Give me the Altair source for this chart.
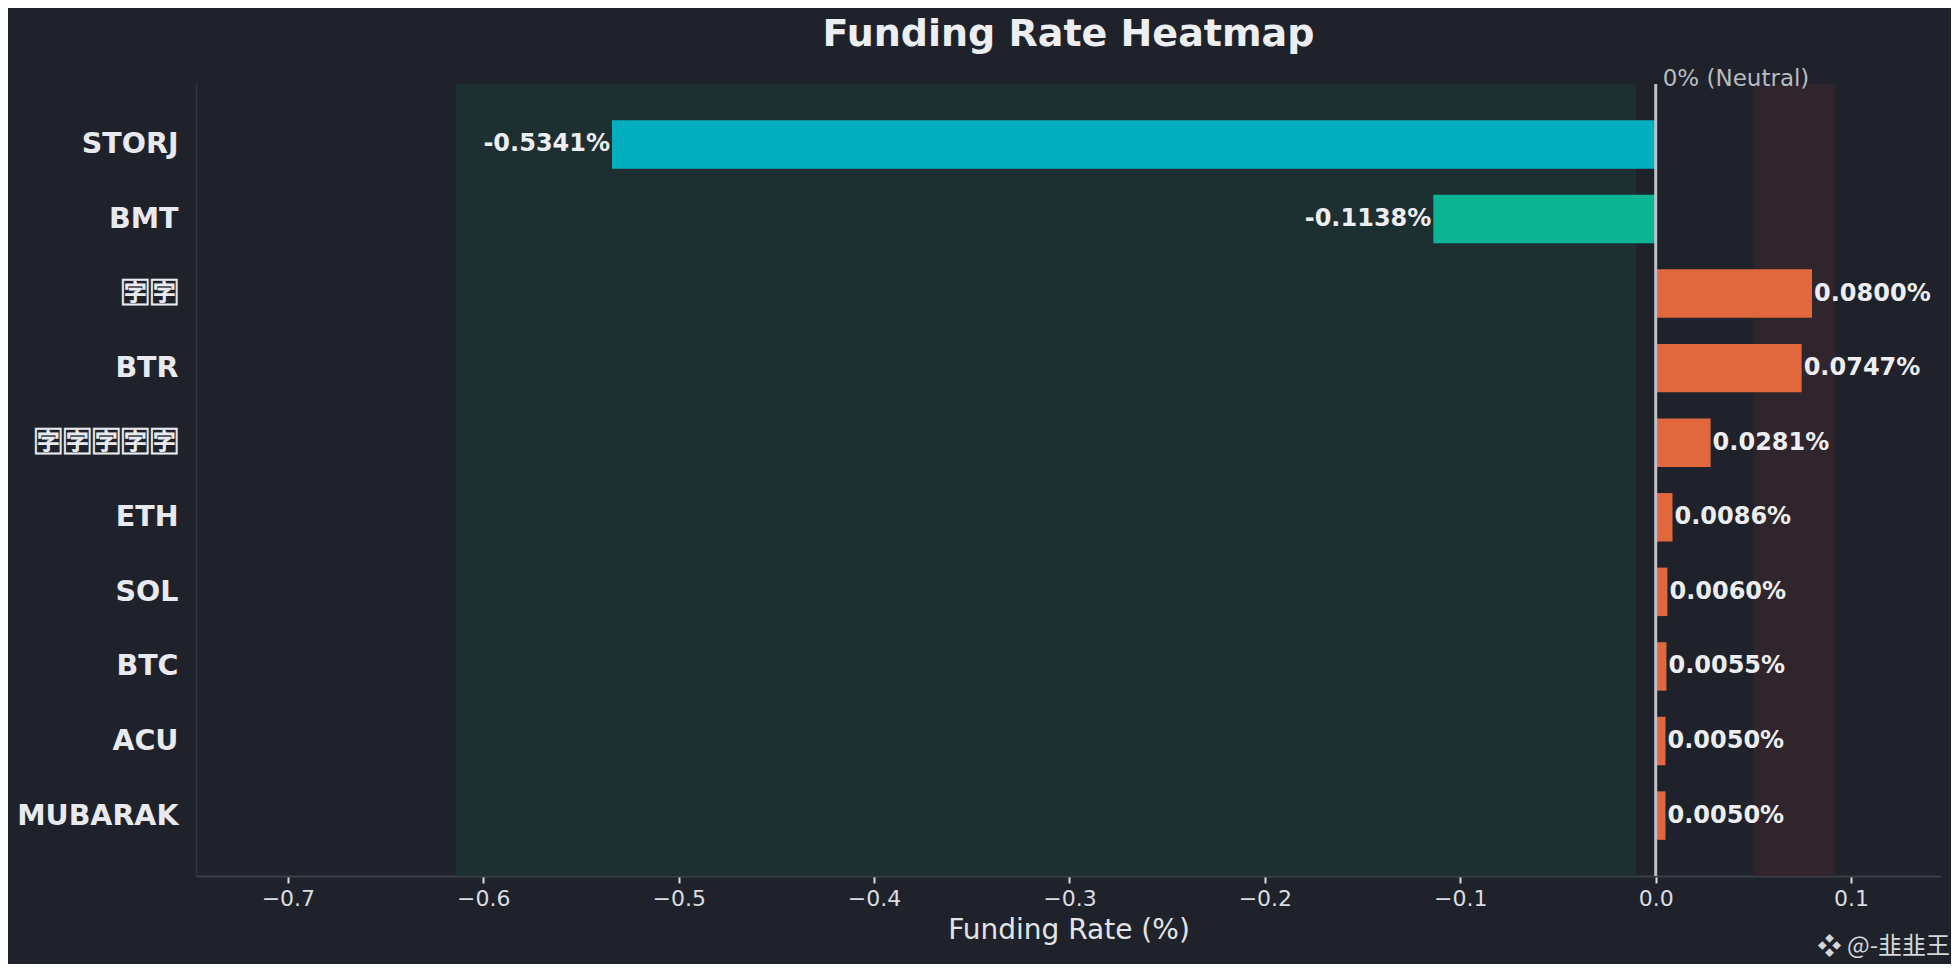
import altair as alt
import pandas as pd

# ---------------- data ----------------
names = ["STORJ", "BMT", "🈑🈑", "BTR", "🈑🈑🈑🈑🈑", "ETH", "SOL", "BTC", "ACU", "MUBARAK"]
rates = [-0.5341, -0.1138, 0.0800, 0.0747, 0.0281, 0.0086, 0.0060, 0.0055, 0.0050, 0.0050]
x_ticks = [-0.7, -0.6, -0.5, -0.4, -0.3, -0.2, -0.1, 0.0, 0.1]
span_start = [-0.6142, 0.05]
span_end = [-0.01, 0.092]
span_kind = ["neg", "pos"]
title_text = "Funding Rate Heatmap"
x_title = "Funding Rate (%)"
neutral_label = "0% (Neutral)"
watermark = "❖ @-韭韭王"

# ---------------- styles ----------------
bar_colors = ["#03AFBE", "#0BB593"] + ["#E0683C"] * 8
span_colors = ["#1D2F30", "#30252D"]
BG = "#1F222A"
W, H = 1745, 792
FONT = "DejaVu Sans"

df = pd.DataFrame({
    "name": names,
    "rate": rates,
    "label": [f"{v:.4f}%" for v in rates],
})
spans = pd.DataFrame({"start": span_start, "end": span_end, "kind": span_kind})

xscale = alt.Scale(domain=[-0.747, 0.146], nice=False, zero=False)
xaxis = alt.Axis(
    values=x_ticks, format=".1f", title=x_title, grid=False,
    titleFontSize=28, titleFontWeight="normal", titleColor="#E2E4E8", titleFont=FONT,
    labelFontSize=22, labelColor="#DADDE2", labelFont=FONT,
    tickColor="#DADDE2", tickSize=7, tickWidth=2,
    domainColor="#3A3E46", domainWidth=2, labelPadding=5, titlePadding=7,
)
yscale = alt.Scale(paddingInner=0.35, paddingOuter=0.485)
yaxis = alt.Axis(
    title=None, ticks=False, labelFontSize=28.5, labelFontWeight="bold",
    labelColor="#E8EAF0", labelPadding=18, labelFont=FONT,
    domainColor="#33373F", domainWidth=1.5,
)

def xenc(field):
    return alt.X(field, type="quantitative", scale=xscale, axis=xaxis)

def yenc():
    return alt.Y("name:N", sort=names, scale=yscale, axis=yaxis)

span_layer = alt.Chart(spans).mark_rect().encode(
    x=xenc("start"),
    x2="end:Q",
    y=alt.value(0),
    y2=alt.value(H),
    color=alt.Color("kind:N", scale=alt.Scale(domain=span_kind, range=span_colors), legend=None),
)

bars = alt.Chart(df).mark_bar().encode(
    x=xenc("rate"),
    x2=alt.datum(0),
    y=yenc(),
    color=alt.Color("name:N", scale=alt.Scale(domain=names, range=bar_colors), legend=None),
)

zero_rule = alt.Chart(pd.DataFrame({"z": [0.0]})).mark_rule(
    color="#BEC2C8", strokeWidth=3
).encode(x=xenc("z"), y=alt.value(0), y2=alt.value(H))

neg_labels = alt.Chart(df).transform_filter("datum.rate < 0").mark_text(
    align="right", baseline="middle", dx=-2, fontSize=24, fontWeight="bold",
    color="#ECEEF2", font=FONT,
).encode(x=xenc("rate"), y=yenc(), text="label:N")

pos_labels = alt.Chart(df).transform_filter("datum.rate >= 0").mark_text(
    align="left", baseline="middle", dx=2, fontSize=24, fontWeight="bold",
    color="#ECEEF2", font=FONT,
).encode(x=xenc("rate"), y=yenc(), text="label:N")

neutral = alt.Chart(pd.DataFrame({"z": [0.0], "t": [neutral_label]})).mark_text(
    align="left", baseline="alphabetic", dx=7, fontSize=23, color="#B8BBC0", font=FONT,
).encode(x=xenc("z"), y=alt.value(2), text="t:N")

title = alt.Chart(pd.DataFrame({"t": [title_text]})).mark_text(
    align="center", baseline="alphabetic", fontSize=38, fontWeight="bold",
    color="#ECEEF2", font=FONT,
).encode(x=alt.value(W / 2), y=alt.value(-38), text="t:N")

wm = alt.Chart(pd.DataFrame({"t": [watermark]})).mark_text(
    align="right", baseline="middle", fontSize=24, color="#D4D6DA",
    font="Noto Sans CJK SC",
).encode(x=alt.value(W + 9), y=alt.value(H + 71), text="t:N")

chart = alt.layer(
    span_layer, bars, zero_rule, neg_labels, pos_labels, neutral, title, wm
).resolve_scale(color="independent").properties(
    width=W, height=H,
    autosize=alt.AutoSizeParams(type="none"),
    padding={"left": 188, "top": 76, "right": 10, "bottom": 88},
    background=BG,
).configure_view(stroke=None)

chart.save("out.html", embed_options={"renderer": "svg", "actions": False})
